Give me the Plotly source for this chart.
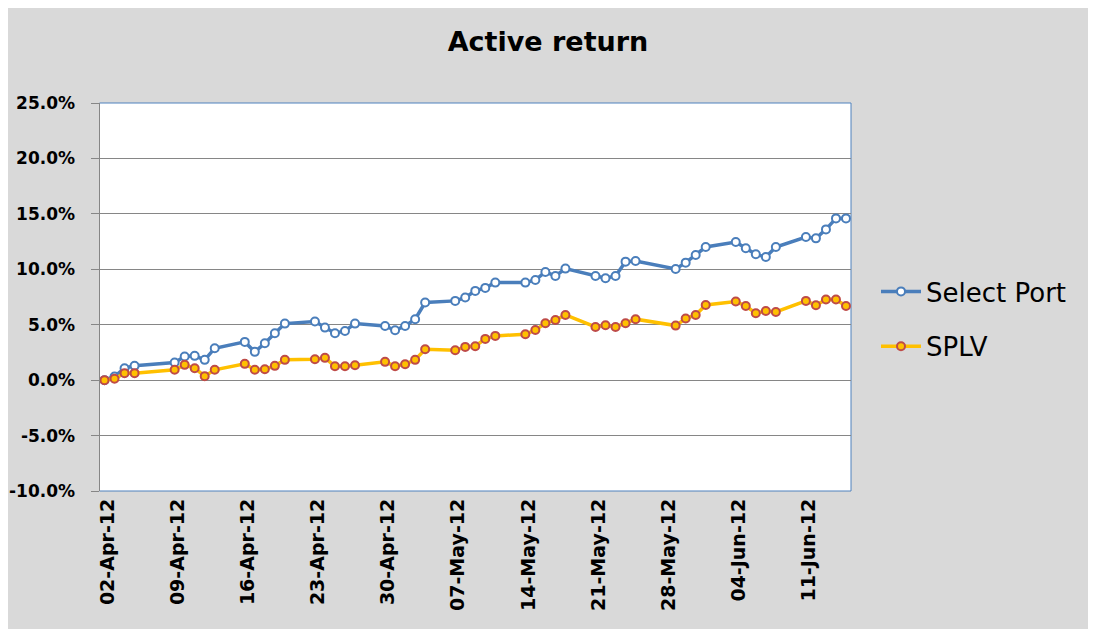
import pandas as pd
import plotly.graph_objects as go

# Trading days (Good Friday and Memorial Day closed)
holidays = ["2012-04-06", "2012-05-28"]
dates = pd.bdate_range("2012-04-02", "2012-06-15")
dates = dates[~dates.isin(pd.to_datetime(holidays))]

# Cumulative active return, %
select_port = [
    0.00, 0.33, 1.08, 1.29, 1.59, 2.13, 2.19, 1.83, 2.88, 3.45,
    2.55, 3.33, 4.23, 5.10, 5.29, 4.74, 4.23, 4.44, 5.10, 4.89,
    4.50, 4.89, 5.50, 7.00, 7.15, 7.45, 8.05, 8.32, 8.80, 8.80,
    9.04, 9.76, 9.40, 10.06, 9.40, 9.19, 9.40, 10.69, 10.75, 10.03,
    10.60, 11.29, 12.01, 12.46, 11.89, 11.35, 11.11, 12.01, 12.91, 12.79,
    13.60, 14.59, 14.59,
]
splv = [
    0.00, 0.12, 0.63, 0.63, 0.93, 1.38, 1.08, 0.36, 0.93, 1.47,
    0.93, 0.99, 1.29, 1.83, 1.89, 2.01, 1.26, 1.26, 1.35, 1.65,
    1.26, 1.44, 1.83, 2.79, 2.70, 3.00, 3.06, 3.72, 3.99, 4.14,
    4.53, 5.13, 5.43, 5.88, 4.80, 4.95, 4.80, 5.13, 5.50, 4.92,
    5.56, 5.88, 6.78, 7.09, 6.69, 6.04, 6.24, 6.15, 7.15, 6.76,
    7.27, 7.27, 6.69,
]
week_ticks = pd.date_range("2012-04-02", "2012-06-11", freq="7D")
y_ticks = [-0.10, -0.05, 0.0, 0.05, 0.10, 0.15, 0.20, 0.25]
y_labels = [f"{v * 100:.1f}%" for v in y_ticks]

# Excel puts each point in the middle of its day
x_mid = dates + pd.Timedelta(hours=12)
x_range = ["2012-04-02", "2012-06-16"]
y_min, y_max = -0.10, 0.25

# page body has an 8px margin, so the figure is laid out in window pixels minus 8
OFF = 8
W, H = 1096 - 2 * OFF, 637 - 2 * OFF


def fx(px):
    return (px - OFF) / W


def fy(py):
    return 1 - (py - OFF) / H


xdom = [fx(99.5), fx(851)]
ydom = [fy(491), fy(103)]
zero_pos = ydom[0] + (0 - y_min) / (y_max - y_min) * (ydom[1] - ydom[0])

grey = "#868686"

fig = go.Figure()
fig.add_trace(go.Scatter(
    x=x_mid, y=[v / 100 for v in select_port], name="Select Port",
    mode="lines+markers", legendgroup="a",
    line=dict(color="#4A7EBB", width=3.5),
    marker=dict(symbol="circle", size=8, color="white",
                line=dict(color="#4A7EBB", width=2)),
))
fig.add_trace(go.Scatter(
    x=x_mid, y=[v / 100 for v in splv], name="SPLV",
    mode="lines+markers", legendgroup="b",
    line=dict(color="#FFC000", width=3.5),
    marker=dict(symbol="circle", size=8, color="#FFC000",
                line=dict(color="#BE4B48", width=2)),
))

fig.update_layout(
    width=W, height=H, autosize=False,
    margin=dict(l=0, r=0, t=0, b=0, autoexpand=False),
    paper_bgcolor="#D9D9D9", plot_bgcolor="white",
    font=dict(family="DejaVu Sans", color="black"),
    title=dict(text="<b>Active return</b>", x=0.5, xanchor="center",
               y=fy(42), yanchor="middle", automargin=False,
               font=dict(size=27, family="DejaVu Sans")),
    legend=dict(x=fx(876), y=fy(268), xanchor="left", yanchor="top",
                font=dict(size=26, family="DejaVu Sans"),
                bgcolor="rgba(0,0,0,0)", tracegroupgap=18, itemwidth=40),
    xaxis=dict(type="date", domain=xdom, range=x_range, automargin=False,
               tickvals=week_ticks, tickformat="%d-%b-%y", tickangle=-90,
               ticks="", showgrid=False, showline=False, zeroline=False,
               ticklabelshift=8, ticklabelstandoff=3,
               tickfont=dict(size=19, family="DejaVu Sans", color="black", weight="bold")),
    xaxis2=dict(type="date", overlaying="x", anchor="free", position=zero_pos,
                domain=xdom, range=x_range, tickvals=week_ticks, automargin=False,
                showticklabels=False, ticks="outside", ticklen=9,
                tickcolor=grey, tickwidth=1, showgrid=False,
                showline=False, zeroline=False),
    yaxis=dict(domain=ydom, range=[y_min, y_max], automargin=False,
               tickvals=y_ticks, ticktext=y_labels,
               showgrid=True, gridcolor=grey, gridwidth=1,
               zeroline=False, showline=True, linecolor=grey, linewidth=1,
               ticks="outside", ticklen=8, tickcolor=grey, ticklabelstandoff=12,
               tickfont=dict(size=17, family="DejaVu Sans", color="black", weight="bold")),
)

# blue frame of the plot area
fig.add_shape(type="rect", xref="x domain", yref="y domain",
              x0=0, x1=1, y0=0, y1=1, layer="below",
              line=dict(color="#4F81BD", width=1))
# black outer border of the chart
fig.add_shape(type="rect", xref="paper", yref="paper",
              x0=-xdom[0] / (xdom[1] - xdom[0]) + 1 / W,
              x1=(1 - xdom[0]) / (xdom[1] - xdom[0]) - 1 / W,
              y0=-ydom[0] / (ydom[1] - ydom[0]) + 1 / H,
              y1=(1 - ydom[0]) / (ydom[1] - ydom[0]) - 1 / H,
              line=dict(color="black", width=2))

fig.write_html("out.html")
